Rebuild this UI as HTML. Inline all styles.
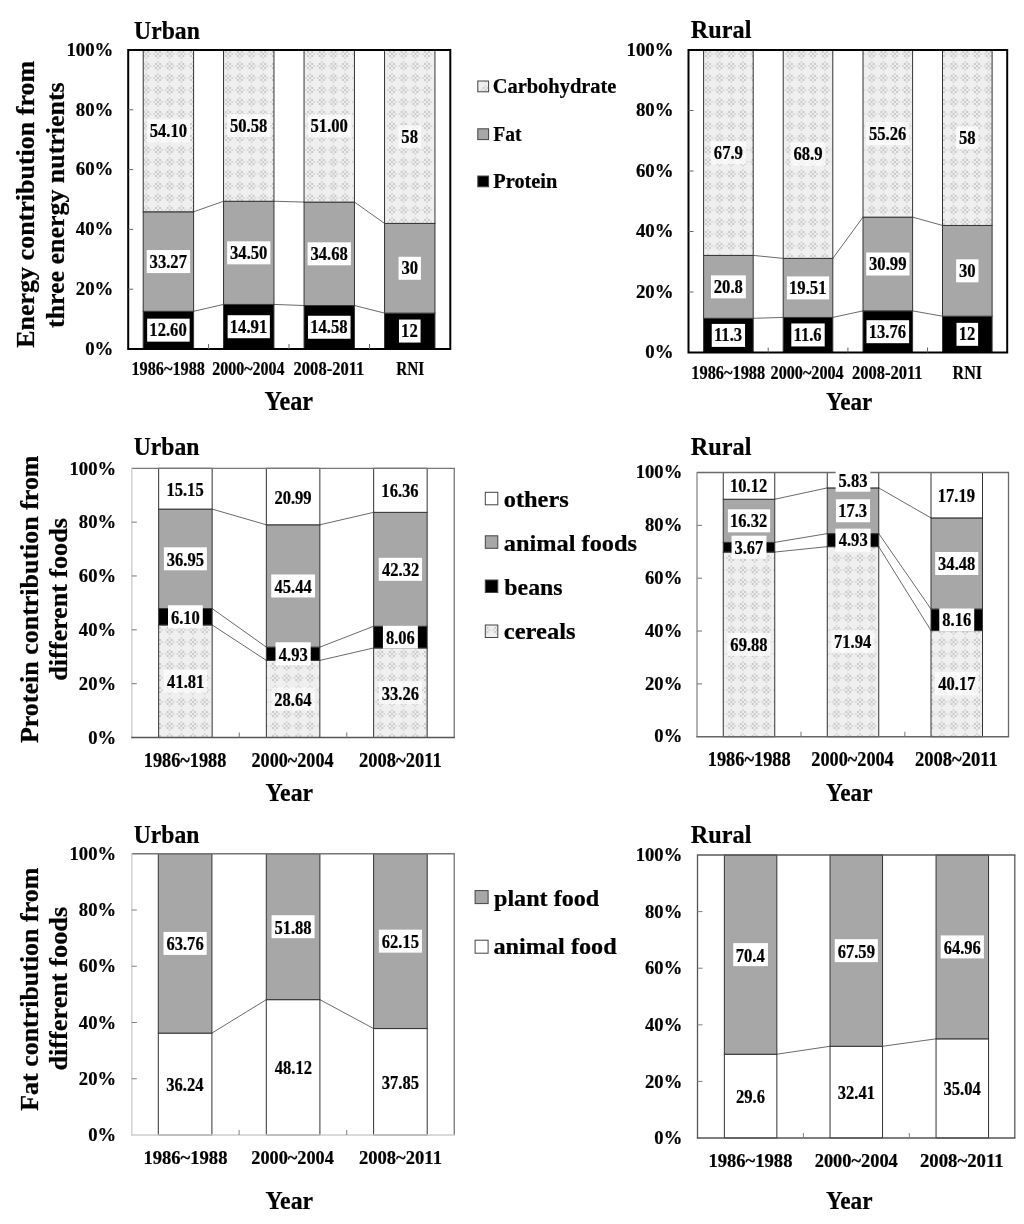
<!DOCTYPE html>
<html><head><meta charset="utf-8"><title>Energy, protein and fat contribution</title>
<style>html,body{margin:0;padding:0;background:#fff}svg{display:block}text{font-family:'Liberation Serif','Times New Roman',serif;font-weight:bold;stroke:#000;stroke-width:0.22px}</style></head>
<body><svg width="1024" height="1224" viewBox="0 0 1024 1224">
<defs><pattern id="dots" width="11.7" height="12.0" patternUnits="userSpaceOnUse"><rect width="11.7" height="12.0" fill="#efefef"/><rect x="3.20" y="3.35" width="1.3" height="1.3" fill="#9a9a9a"/><rect x="7.20" y="3.35" width="1.3" height="1.3" fill="#9a9a9a"/><rect x="5.20" y="5.35" width="1.3" height="1.3" fill="#9a9a9a"/><rect x="3.20" y="7.35" width="1.3" height="1.3" fill="#9a9a9a"/><rect x="7.20" y="7.35" width="1.3" height="1.3" fill="#9a9a9a"/><rect x="1.20" y="5.35" width="1.3" height="1.3" fill="#c0c0c0"/><rect x="9.20" y="5.35" width="1.3" height="1.3" fill="#c0c0c0"/><rect x="5.20" y="1.35" width="1.3" height="1.3" fill="#c0c0c0"/><rect x="5.20" y="9.35" width="1.3" height="1.3" fill="#c0c0c0"/></pattern></defs>
<rect width="1024" height="1224" fill="#fff"/>
<rect x="128.20" y="50.00" width="322.10" height="299.00" fill="#fff"/>
<rect x="143.20" y="311.31" width="50.40" height="37.69" fill="#000" stroke="#333" stroke-width="1"/>
<rect x="143.20" y="211.81" width="50.40" height="99.51" fill="#a7a7a7" stroke="#333" stroke-width="1"/>
<rect x="143.20" y="50.00" width="50.40" height="161.81" fill="url(#dots)" stroke="#333" stroke-width="1"/>
<rect x="223.55" y="304.41" width="50.40" height="44.59" fill="#000" stroke="#333" stroke-width="1"/>
<rect x="223.55" y="201.25" width="50.40" height="103.17" fill="#a7a7a7" stroke="#333" stroke-width="1"/>
<rect x="223.55" y="50.00" width="50.40" height="151.25" fill="url(#dots)" stroke="#333" stroke-width="1"/>
<rect x="304.05" y="305.52" width="50.40" height="43.48" fill="#000" stroke="#333" stroke-width="1"/>
<rect x="304.05" y="202.09" width="50.40" height="103.42" fill="#a7a7a7" stroke="#333" stroke-width="1"/>
<rect x="304.05" y="50.00" width="50.40" height="152.09" fill="url(#dots)" stroke="#333" stroke-width="1"/>
<rect x="384.55" y="313.12" width="50.40" height="35.88" fill="#000" stroke="#333" stroke-width="1"/>
<rect x="384.55" y="223.42" width="50.40" height="89.70" fill="#a7a7a7" stroke="#333" stroke-width="1"/>
<rect x="384.55" y="50.00" width="50.40" height="173.42" fill="url(#dots)" stroke="#333" stroke-width="1"/>
<line x1="193.60" y1="311.31" x2="223.55" y2="304.41" stroke="#444" stroke-width="0.8"/>
<line x1="193.60" y1="211.81" x2="223.55" y2="201.25" stroke="#444" stroke-width="0.8"/>
<line x1="273.95" y1="304.41" x2="304.05" y2="305.52" stroke="#444" stroke-width="0.8"/>
<line x1="273.95" y1="201.25" x2="304.05" y2="202.09" stroke="#444" stroke-width="0.8"/>
<line x1="354.45" y1="305.52" x2="384.55" y2="313.12" stroke="#444" stroke-width="0.8"/>
<line x1="354.45" y1="202.09" x2="384.55" y2="223.42" stroke="#444" stroke-width="0.8"/>
<rect x="128.20" y="50.00" width="322.10" height="299.00" fill="none" stroke="#000" stroke-width="2"/>
<line x1="128.20" y1="289.20" x2="133.20" y2="289.20" stroke="#666" stroke-width="1"/>
<line x1="128.20" y1="229.40" x2="133.20" y2="229.40" stroke="#666" stroke-width="1"/>
<line x1="128.20" y1="169.60" x2="133.20" y2="169.60" stroke="#666" stroke-width="1"/>
<line x1="128.20" y1="109.80" x2="133.20" y2="109.80" stroke="#666" stroke-width="1"/>
<line x1="208.57" y1="349.00" x2="208.57" y2="344.00" stroke="#666" stroke-width="1"/>
<line x1="289.00" y1="349.00" x2="289.00" y2="344.00" stroke="#666" stroke-width="1"/>
<line x1="369.50" y1="349.00" x2="369.50" y2="344.00" stroke="#666" stroke-width="1"/>
<rect x="147.15" y="318.66" width="42.50" height="23.00" fill="#fff"/>
<text transform="translate(149.32,336.16) scale(0.9300,1)" font-size="17.90" fill="#000">12.60</text>
<rect x="146.69" y="250.06" width="43.42" height="23.00" fill="#fff"/>
<text transform="translate(149.57,267.56) scale(0.9300,1)" font-size="17.90" fill="#000">33.27</text>
<rect x="146.82" y="119.40" width="43.17" height="23.00" fill="rgba(255,255,255,0.7)"/>
<text transform="translate(149.65,136.90) scale(0.9300,1)" font-size="17.90" fill="#000">54.10</text>
<rect x="227.62" y="315.21" width="42.25" height="23.00" fill="#fff"/>
<text transform="translate(229.79,332.71) scale(0.9300,1)" font-size="17.90" fill="#000">14.91</text>
<rect x="227.15" y="241.33" width="43.21" height="23.00" fill="#fff"/>
<text transform="translate(230.02,258.83) scale(0.9300,1)" font-size="17.90" fill="#000">34.50</text>
<rect x="227.13" y="114.12" width="43.25" height="23.00" fill="rgba(255,255,255,0.7)"/>
<text transform="translate(229.96,131.62) scale(0.9300,1)" font-size="17.90" fill="#000">50.58</text>
<rect x="307.96" y="315.76" width="42.58" height="23.00" fill="#fff"/>
<text transform="translate(310.13,333.26) scale(0.9300,1)" font-size="17.90" fill="#000">14.58</text>
<rect x="307.60" y="242.31" width="43.29" height="23.00" fill="#fff"/>
<text transform="translate(310.48,259.81) scale(0.9300,1)" font-size="17.90" fill="#000">34.68</text>
<rect x="307.67" y="114.55" width="43.17" height="23.00" fill="rgba(255,255,255,0.7)"/>
<text transform="translate(310.50,132.05) scale(0.9300,1)" font-size="17.90" fill="#000">51.00</text>
<rect x="398.95" y="319.56" width="21.61" height="23.00" fill="#fff"/>
<text transform="translate(401.11,337.06) scale(0.9300,1)" font-size="17.90" fill="#000">12</text>
<rect x="398.55" y="256.77" width="22.40" height="23.00" fill="#fff"/>
<text transform="translate(401.43,274.27) scale(0.9300,1)" font-size="17.90" fill="#000">30</text>
<rect x="398.53" y="125.21" width="22.44" height="23.00" fill="rgba(255,255,255,0.7)"/>
<text transform="translate(401.36,142.71) scale(0.9300,1)" font-size="17.90" fill="#000">58</text>
<text transform="translate(85.19,354.80) scale(1.0000,1)" font-size="18.80" fill="#000">0%</text>
<text transform="translate(75.79,295.00) scale(1.0000,1)" font-size="18.80" fill="#000">20%</text>
<text transform="translate(75.79,235.20) scale(1.0000,1)" font-size="18.80" fill="#000">40%</text>
<text transform="translate(75.79,175.40) scale(1.0000,1)" font-size="18.80" fill="#000">60%</text>
<text transform="translate(75.79,115.60) scale(1.0000,1)" font-size="18.80" fill="#000">80%</text>
<text transform="translate(66.39,55.80) scale(1.0000,1)" font-size="18.80" fill="#000">100%</text>
<text transform="translate(131.40,374.80) scale(0.8953,1)" font-size="18.20" fill="#000">1986~1988</text>
<text transform="translate(212.32,374.80) scale(0.8786,1)" font-size="18.20" fill="#000">2000~2004</text>
<text transform="translate(293.60,374.80) scale(0.9080,1)" font-size="18.20" fill="#000">2008-2011</text>
<text transform="translate(396.33,374.80) scale(0.8260,1)" font-size="18.47" fill="#000">RNI</text>
<text transform="translate(134.11,38.80) scale(0.9347,1)" font-size="25.32" fill="#000">Urban</text>
<text transform="translate(264.58,410.00) scale(0.8968,1)" font-size="27.02" fill="#000">Year</text>
<rect x="688.50" y="50.00" width="318.70" height="302.50" fill="#fff"/>
<rect x="703.60" y="318.32" width="49.60" height="34.18" fill="#000" stroke="#333" stroke-width="1"/>
<rect x="703.60" y="255.40" width="49.60" height="62.92" fill="#a7a7a7" stroke="#333" stroke-width="1"/>
<rect x="703.60" y="50.00" width="49.60" height="205.40" fill="url(#dots)" stroke="#333" stroke-width="1"/>
<rect x="783.20" y="317.41" width="49.60" height="35.09" fill="#000" stroke="#333" stroke-width="1"/>
<rect x="783.20" y="258.40" width="49.60" height="59.01" fill="#a7a7a7" stroke="#333" stroke-width="1"/>
<rect x="783.20" y="50.00" width="49.60" height="208.40" fill="url(#dots)" stroke="#333" stroke-width="1"/>
<rect x="863.00" y="310.88" width="49.60" height="41.62" fill="#000" stroke="#333" stroke-width="1"/>
<rect x="863.00" y="217.14" width="49.60" height="93.74" fill="#a7a7a7" stroke="#333" stroke-width="1"/>
<rect x="863.00" y="50.00" width="49.60" height="167.14" fill="url(#dots)" stroke="#333" stroke-width="1"/>
<rect x="942.50" y="316.20" width="49.60" height="36.30" fill="#000" stroke="#333" stroke-width="1"/>
<rect x="942.50" y="225.45" width="49.60" height="90.75" fill="#a7a7a7" stroke="#333" stroke-width="1"/>
<rect x="942.50" y="50.00" width="49.60" height="175.45" fill="url(#dots)" stroke="#333" stroke-width="1"/>
<line x1="753.20" y1="318.32" x2="783.20" y2="317.41" stroke="#444" stroke-width="0.8"/>
<line x1="753.20" y1="255.40" x2="783.20" y2="258.40" stroke="#444" stroke-width="0.8"/>
<line x1="832.80" y1="317.41" x2="863.00" y2="310.88" stroke="#444" stroke-width="0.8"/>
<line x1="832.80" y1="258.40" x2="863.00" y2="217.14" stroke="#444" stroke-width="0.8"/>
<line x1="912.60" y1="310.88" x2="942.50" y2="316.20" stroke="#444" stroke-width="0.8"/>
<line x1="912.60" y1="217.14" x2="942.50" y2="225.45" stroke="#444" stroke-width="0.8"/>
<rect x="688.50" y="50.00" width="318.70" height="302.50" fill="none" stroke="#000" stroke-width="2"/>
<line x1="688.50" y1="292.00" x2="693.50" y2="292.00" stroke="#666" stroke-width="1"/>
<line x1="688.50" y1="231.50" x2="693.50" y2="231.50" stroke="#666" stroke-width="1"/>
<line x1="688.50" y1="171.00" x2="693.50" y2="171.00" stroke="#666" stroke-width="1"/>
<line x1="688.50" y1="110.50" x2="693.50" y2="110.50" stroke="#666" stroke-width="1"/>
<line x1="768.20" y1="352.50" x2="768.20" y2="347.50" stroke="#666" stroke-width="1"/>
<line x1="847.90" y1="352.50" x2="847.90" y2="347.50" stroke="#666" stroke-width="1"/>
<line x1="927.55" y1="352.50" x2="927.55" y2="347.50" stroke="#666" stroke-width="1"/>
<rect x="711.75" y="323.91" width="33.30" height="23.00" fill="#fff"/>
<text transform="translate(713.92,341.41) scale(0.9300,1)" font-size="17.90" fill="#000">11.3</text>
<rect x="710.96" y="275.36" width="34.88" height="23.00" fill="#fff"/>
<text transform="translate(713.75,292.86) scale(0.9300,1)" font-size="17.90" fill="#000">20.8</text>
<rect x="710.92" y="141.20" width="34.97" height="23.00" fill="rgba(255,255,255,0.7)"/>
<text transform="translate(713.83,158.70) scale(0.9300,1)" font-size="17.90" fill="#000">67.9</text>
<rect x="791.31" y="323.46" width="33.39" height="23.00" fill="#fff"/>
<text transform="translate(793.48,340.96) scale(0.9300,1)" font-size="17.90" fill="#000">11.6</text>
<rect x="786.87" y="276.41" width="42.25" height="23.00" fill="#fff"/>
<text transform="translate(789.04,293.91) scale(0.9300,1)" font-size="17.90" fill="#000">19.51</text>
<rect x="790.52" y="142.70" width="34.97" height="23.00" fill="rgba(255,255,255,0.7)"/>
<text transform="translate(793.43,160.20) scale(0.9300,1)" font-size="17.90" fill="#000">68.9</text>
<rect x="866.49" y="320.19" width="42.62" height="23.00" fill="#fff"/>
<text transform="translate(868.66,337.69) scale(0.9300,1)" font-size="17.90" fill="#000">13.76</text>
<rect x="866.18" y="252.51" width="43.25" height="23.00" fill="#fff"/>
<text transform="translate(869.05,270.01) scale(0.9300,1)" font-size="17.90" fill="#000">30.99</text>
<rect x="866.15" y="122.07" width="43.29" height="23.00" fill="rgba(255,255,255,0.7)"/>
<text transform="translate(868.99,139.57) scale(0.9300,1)" font-size="17.90" fill="#000">55.26</text>
<rect x="956.50" y="322.85" width="21.61" height="23.00" fill="#fff"/>
<text transform="translate(958.66,340.35) scale(0.9300,1)" font-size="17.90" fill="#000">12</text>
<rect x="956.10" y="259.32" width="22.40" height="23.00" fill="#fff"/>
<text transform="translate(958.98,276.82) scale(0.9300,1)" font-size="17.90" fill="#000">30</text>
<rect x="956.08" y="126.22" width="22.44" height="23.00" fill="rgba(255,255,255,0.7)"/>
<text transform="translate(958.91,143.72) scale(0.9300,1)" font-size="17.90" fill="#000">58</text>
<text transform="translate(645.29,358.30) scale(1.0000,1)" font-size="18.80" fill="#000">0%</text>
<text transform="translate(635.89,297.80) scale(1.0000,1)" font-size="18.80" fill="#000">20%</text>
<text transform="translate(635.89,237.30) scale(1.0000,1)" font-size="18.80" fill="#000">40%</text>
<text transform="translate(635.89,176.80) scale(1.0000,1)" font-size="18.80" fill="#000">60%</text>
<text transform="translate(635.89,116.30) scale(1.0000,1)" font-size="18.80" fill="#000">80%</text>
<text transform="translate(626.49,55.80) scale(1.0000,1)" font-size="18.80" fill="#000">100%</text>
<text transform="translate(691.29,378.50) scale(0.9065,1)" font-size="18.05" fill="#000">1986~1988</text>
<text transform="translate(770.61,378.50) scale(0.8946,1)" font-size="18.05" fill="#000">2000~2004</text>
<text transform="translate(851.90,378.50) scale(0.9156,1)" font-size="18.05" fill="#000">2008-2011</text>
<text transform="translate(952.62,378.50) scale(0.8758,1)" font-size="18.32" fill="#000">RNI</text>
<text transform="translate(690.83,38.40) scale(0.9682,1)" font-size="25.04" fill="#000">Rural</text>
<text transform="translate(826.10,409.70) scale(0.9231,1)" font-size="25.04" fill="#000">Year</text>
<rect x="131.80" y="468.30" width="322.45" height="269.20" fill="#fff"/>
<rect x="158.65" y="624.96" width="53.50" height="112.54" fill="url(#dots)" stroke="#333" stroke-width="1"/>
<rect x="158.65" y="608.54" width="53.50" height="16.42" fill="#000" stroke="#333" stroke-width="1"/>
<rect x="158.65" y="509.08" width="53.50" height="99.46" fill="#a7a7a7" stroke="#333" stroke-width="1"/>
<rect x="158.65" y="468.30" width="53.50" height="40.78" fill="#fff" stroke="#333" stroke-width="1"/>
<rect x="266.35" y="660.40" width="53.50" height="77.10" fill="url(#dots)" stroke="#333" stroke-width="1"/>
<rect x="266.35" y="647.13" width="53.50" height="13.27" fill="#000" stroke="#333" stroke-width="1"/>
<rect x="266.35" y="524.81" width="53.50" height="122.32" fill="#a7a7a7" stroke="#333" stroke-width="1"/>
<rect x="266.35" y="468.30" width="53.50" height="56.51" fill="#fff" stroke="#333" stroke-width="1"/>
<rect x="373.65" y="647.96" width="53.50" height="89.54" fill="url(#dots)" stroke="#333" stroke-width="1"/>
<rect x="373.65" y="626.27" width="53.50" height="21.70" fill="#000" stroke="#333" stroke-width="1"/>
<rect x="373.65" y="512.34" width="53.50" height="113.93" fill="#a7a7a7" stroke="#333" stroke-width="1"/>
<rect x="373.65" y="468.30" width="53.50" height="44.04" fill="#fff" stroke="#333" stroke-width="1"/>
<line x1="212.15" y1="624.96" x2="266.35" y2="660.40" stroke="#444" stroke-width="0.8"/>
<line x1="212.15" y1="608.54" x2="266.35" y2="647.13" stroke="#444" stroke-width="0.8"/>
<line x1="212.15" y1="509.08" x2="266.35" y2="524.81" stroke="#444" stroke-width="0.8"/>
<line x1="319.85" y1="660.40" x2="373.65" y2="647.96" stroke="#444" stroke-width="0.8"/>
<line x1="319.85" y1="647.13" x2="373.65" y2="626.27" stroke="#444" stroke-width="0.8"/>
<line x1="319.85" y1="524.81" x2="373.65" y2="512.34" stroke="#444" stroke-width="0.8"/>
<line x1="131.80" y1="468.30" x2="454.85" y2="468.30" stroke="#777" stroke-width="1.3"/>
<line x1="454.25" y1="468.30" x2="454.25" y2="737.50" stroke="#777" stroke-width="1.3"/>
<line x1="131.80" y1="467.70" x2="131.80" y2="738.10" stroke="#ccc" stroke-width="1.3"/>
<line x1="131.20" y1="737.50" x2="454.85" y2="737.50" stroke="#555" stroke-width="1.3"/>
<line x1="131.80" y1="683.66" x2="136.80" y2="683.66" stroke="#777" stroke-width="1"/>
<line x1="131.80" y1="629.82" x2="136.80" y2="629.82" stroke="#777" stroke-width="1"/>
<line x1="131.80" y1="575.98" x2="136.80" y2="575.98" stroke="#777" stroke-width="1"/>
<line x1="131.80" y1="522.14" x2="136.80" y2="522.14" stroke="#777" stroke-width="1"/>
<line x1="239.25" y1="737.50" x2="239.25" y2="732.50" stroke="#777" stroke-width="1"/>
<line x1="346.75" y1="737.50" x2="346.75" y2="732.50" stroke="#777" stroke-width="1"/>
<rect x="163.81" y="669.73" width="43.18" height="23.00" fill="rgba(255,255,255,0.7)"/>
<text transform="translate(167.10,688.23) scale(0.9250,1)" font-size="17.90" fill="#000">41.81</text>
<rect x="168.01" y="605.25" width="34.78" height="23.00" fill="#fff"/>
<text transform="translate(170.93,623.75) scale(0.9250,1)" font-size="17.90" fill="#000">6.10</text>
<rect x="163.89" y="547.31" width="43.01" height="23.00" fill="#fff"/>
<text transform="translate(166.77,565.81) scale(0.9250,1)" font-size="17.90" fill="#000">36.95</text>
<text transform="translate(166.42,495.69) scale(0.9250,1)" font-size="17.90" fill="#000">15.15</text>
<rect x="271.47" y="687.45" width="43.26" height="23.00" fill="rgba(255,255,255,0.7)"/>
<text transform="translate(274.27,705.95) scale(0.9250,1)" font-size="17.90" fill="#000">28.64</text>
<rect x="275.51" y="642.27" width="35.19" height="23.00" fill="#fff"/>
<text transform="translate(278.80,660.77) scale(0.9250,1)" font-size="17.90" fill="#000">4.93</text>
<rect x="271.22" y="574.47" width="43.76" height="23.00" fill="#fff"/>
<text transform="translate(274.51,592.97) scale(0.9250,1)" font-size="17.90" fill="#000">45.44</text>
<text transform="translate(274.41,503.55) scale(0.9250,1)" font-size="17.90" fill="#000">20.99</text>
<rect x="378.83" y="681.23" width="43.14" height="23.00" fill="rgba(255,255,255,0.7)"/>
<text transform="translate(381.71,699.73) scale(0.9250,1)" font-size="17.90" fill="#000">33.26</text>
<rect x="382.93" y="625.62" width="34.94" height="23.00" fill="#fff"/>
<text transform="translate(385.89,644.12) scale(0.9250,1)" font-size="17.90" fill="#000">8.06</text>
<rect x="378.73" y="557.80" width="43.34" height="23.00" fill="#fff"/>
<text transform="translate(382.02,576.30) scale(0.9250,1)" font-size="17.90" fill="#000">42.32</text>
<text transform="translate(381.36,497.32) scale(0.9250,1)" font-size="17.90" fill="#000">16.36</text>
<text transform="translate(88.13,743.70) scale(0.9700,1)" font-size="19.20" fill="#000">0%</text>
<text transform="translate(78.82,689.86) scale(0.9700,1)" font-size="19.20" fill="#000">20%</text>
<text transform="translate(78.82,636.02) scale(0.9700,1)" font-size="19.20" fill="#000">40%</text>
<text transform="translate(78.82,582.18) scale(0.9700,1)" font-size="19.20" fill="#000">60%</text>
<text transform="translate(78.82,528.34) scale(0.9700,1)" font-size="19.20" fill="#000">80%</text>
<text transform="translate(69.51,474.50) scale(0.9700,1)" font-size="19.20" fill="#000">100%</text>
<text transform="translate(143.74,767.00) scale(0.8823,1)" font-size="20.75" fill="#000">1986~1988</text>
<text transform="translate(251.53,767.00) scale(0.8752,1)" font-size="20.75" fill="#000">2000~2004</text>
<text transform="translate(359.11,767.00) scale(0.8921,1)" font-size="20.75" fill="#000">2008~2011</text>
<text transform="translate(133.71,455.20) scale(0.9242,1)" font-size="25.61" fill="#000">Urban</text>
<text transform="translate(265.58,801.40) scale(0.9381,1)" font-size="25.34" fill="#000">Year</text>
<rect x="697.00" y="472.50" width="311.50" height="264.25" fill="#fff"/>
<rect x="723.25" y="552.07" width="51.50" height="184.68" fill="url(#dots)" stroke="#333" stroke-width="1"/>
<rect x="723.25" y="542.37" width="51.50" height="9.70" fill="#000" stroke="#333" stroke-width="1"/>
<rect x="723.25" y="499.24" width="51.50" height="43.13" fill="#a7a7a7" stroke="#333" stroke-width="1"/>
<rect x="723.25" y="472.50" width="51.50" height="26.74" fill="#fff" stroke="#333" stroke-width="1"/>
<rect x="827.25" y="546.65" width="51.50" height="190.10" fill="url(#dots)" stroke="#333" stroke-width="1"/>
<rect x="827.25" y="533.62" width="51.50" height="13.03" fill="#000" stroke="#333" stroke-width="1"/>
<rect x="827.25" y="487.91" width="51.50" height="45.72" fill="#a7a7a7" stroke="#333" stroke-width="1"/>
<rect x="827.25" y="472.50" width="51.50" height="15.41" fill="#fff" stroke="#333" stroke-width="1"/>
<rect x="931.00" y="630.60" width="51.50" height="106.15" fill="url(#dots)" stroke="#333" stroke-width="1"/>
<rect x="931.00" y="609.04" width="51.50" height="21.56" fill="#000" stroke="#333" stroke-width="1"/>
<rect x="931.00" y="517.92" width="51.50" height="91.11" fill="#a7a7a7" stroke="#333" stroke-width="1"/>
<rect x="931.00" y="472.50" width="51.50" height="45.42" fill="#fff" stroke="#333" stroke-width="1"/>
<line x1="774.75" y1="552.07" x2="827.25" y2="546.65" stroke="#444" stroke-width="0.8"/>
<line x1="774.75" y1="542.37" x2="827.25" y2="533.62" stroke="#444" stroke-width="0.8"/>
<line x1="774.75" y1="499.24" x2="827.25" y2="487.91" stroke="#444" stroke-width="0.8"/>
<line x1="878.75" y1="546.65" x2="931.00" y2="630.60" stroke="#444" stroke-width="0.8"/>
<line x1="878.75" y1="533.62" x2="931.00" y2="609.04" stroke="#444" stroke-width="0.8"/>
<line x1="878.75" y1="487.91" x2="931.00" y2="517.92" stroke="#444" stroke-width="0.8"/>
<line x1="697.00" y1="472.50" x2="1009.10" y2="472.50" stroke="#6a6a6a" stroke-width="1.3"/>
<line x1="1008.50" y1="472.50" x2="1008.50" y2="736.75" stroke="#6a6a6a" stroke-width="1.3"/>
<line x1="697.00" y1="471.90" x2="697.00" y2="737.35" stroke="#888" stroke-width="1.3"/>
<line x1="696.40" y1="736.75" x2="1009.10" y2="736.75" stroke="#666" stroke-width="1.3"/>
<line x1="697.00" y1="683.90" x2="702.00" y2="683.90" stroke="#777" stroke-width="1"/>
<line x1="697.00" y1="631.05" x2="702.00" y2="631.05" stroke="#777" stroke-width="1"/>
<line x1="697.00" y1="578.20" x2="702.00" y2="578.20" stroke="#777" stroke-width="1"/>
<line x1="697.00" y1="525.35" x2="702.00" y2="525.35" stroke="#777" stroke-width="1"/>
<line x1="801.00" y1="736.75" x2="801.00" y2="731.75" stroke="#777" stroke-width="1"/>
<line x1="904.88" y1="736.75" x2="904.88" y2="731.75" stroke="#777" stroke-width="1"/>
<rect x="727.43" y="632.91" width="43.14" height="23.00" fill="rgba(255,255,255,0.7)"/>
<text transform="translate(730.35,650.71) scale(0.9250,1)" font-size="17.90" fill="#000">69.88</text>
<rect x="731.53" y="535.72" width="34.94" height="23.00" fill="#fff"/>
<text transform="translate(734.41,553.52) scale(0.9250,1)" font-size="17.90" fill="#000">3.67</text>
<rect x="727.89" y="509.31" width="42.23" height="23.00" fill="#fff"/>
<text transform="translate(730.06,527.11) scale(0.9250,1)" font-size="17.90" fill="#000">16.32</text>
<rect x="727.89" y="474.37" width="42.23" height="23.00" fill="#fff"/>
<text transform="translate(730.06,492.17) scale(0.9250,1)" font-size="17.90" fill="#000">10.12</text>
<rect x="831.49" y="630.20" width="43.01" height="23.00" fill="rgba(255,255,255,0.7)"/>
<text transform="translate(834.04,648.00) scale(0.9250,1)" font-size="17.90" fill="#000">71.94</text>
<rect x="835.41" y="528.63" width="35.19" height="23.00" fill="#fff"/>
<text transform="translate(838.70,546.43) scale(0.9250,1)" font-size="17.90" fill="#000">4.93</text>
<rect x="835.96" y="499.26" width="34.07" height="23.00" fill="#fff"/>
<text transform="translate(838.14,517.06) scale(0.9250,1)" font-size="17.90" fill="#000">17.3</text>
<rect x="835.63" y="468.70" width="34.73" height="23.00" fill="#fff"/>
<text transform="translate(838.47,486.50) scale(0.9250,1)" font-size="17.90" fill="#000">5.83</text>
<rect x="934.93" y="672.18" width="43.63" height="23.00" fill="rgba(255,255,255,0.7)"/>
<text transform="translate(938.23,689.98) scale(0.9250,1)" font-size="17.90" fill="#000">40.17</text>
<rect x="939.28" y="608.32" width="34.94" height="23.00" fill="#fff"/>
<text transform="translate(942.24,626.12) scale(0.9250,1)" font-size="17.90" fill="#000">8.16</text>
<rect x="935.20" y="551.98" width="43.10" height="23.00" fill="#fff"/>
<text transform="translate(938.08,569.78) scale(0.9250,1)" font-size="17.90" fill="#000">34.48</text>
<rect x="935.57" y="483.71" width="42.35" height="23.00" fill="#fff"/>
<text transform="translate(937.75,501.51) scale(0.9250,1)" font-size="17.90" fill="#000">17.19</text>
<text transform="translate(654.33,742.45) scale(0.9700,1)" font-size="19.20" fill="#000">0%</text>
<text transform="translate(645.02,689.60) scale(0.9700,1)" font-size="19.20" fill="#000">20%</text>
<text transform="translate(645.02,636.75) scale(0.9700,1)" font-size="19.20" fill="#000">40%</text>
<text transform="translate(645.02,583.90) scale(0.9700,1)" font-size="19.20" fill="#000">60%</text>
<text transform="translate(645.02,531.05) scale(0.9700,1)" font-size="19.20" fill="#000">80%</text>
<text transform="translate(635.71,478.20) scale(0.9700,1)" font-size="19.20" fill="#000">100%</text>
<text transform="translate(707.73,766.20) scale(0.9189,1)" font-size="20.00" fill="#000">1986~1988</text>
<text transform="translate(811.32,766.20) scale(0.9126,1)" font-size="20.00" fill="#000">2000~2004</text>
<text transform="translate(914.91,766.20) scale(0.9302,1)" font-size="20.00" fill="#000">2008~2011</text>
<text transform="translate(690.83,455.00) scale(0.9518,1)" font-size="25.47" fill="#000">Rural</text>
<text transform="translate(826.09,801.40) scale(0.9160,1)" font-size="25.34" fill="#000">Year</text>
<rect x="131.80" y="853.75" width="322.45" height="281.25" fill="#fff"/>
<rect x="158.30" y="1033.08" width="53.60" height="101.92" fill="#fff" stroke="#333" stroke-width="1"/>
<rect x="158.30" y="853.75" width="53.60" height="179.33" fill="#a7a7a7" stroke="#333" stroke-width="1"/>
<rect x="266.30" y="999.66" width="53.60" height="135.34" fill="#fff" stroke="#333" stroke-width="1"/>
<rect x="266.30" y="853.75" width="53.60" height="145.91" fill="#a7a7a7" stroke="#333" stroke-width="1"/>
<rect x="373.60" y="1028.55" width="53.60" height="106.45" fill="#fff" stroke="#333" stroke-width="1"/>
<rect x="373.60" y="853.75" width="53.60" height="174.80" fill="#a7a7a7" stroke="#333" stroke-width="1"/>
<line x1="211.90" y1="1033.08" x2="266.30" y2="999.66" stroke="#444" stroke-width="0.8"/>
<line x1="319.90" y1="999.66" x2="373.60" y2="1028.55" stroke="#444" stroke-width="0.8"/>
<line x1="131.80" y1="853.75" x2="454.85" y2="853.75" stroke="#777" stroke-width="1.3"/>
<line x1="454.25" y1="853.75" x2="454.25" y2="1135.00" stroke="#777" stroke-width="1.3"/>
<line x1="131.80" y1="853.15" x2="131.80" y2="1135.60" stroke="#ccc" stroke-width="1.3"/>
<line x1="131.20" y1="1135.00" x2="454.85" y2="1135.00" stroke="#ccc" stroke-width="1.3"/>
<line x1="131.80" y1="1078.75" x2="136.80" y2="1078.75" stroke="#808080" stroke-width="1"/>
<line x1="131.80" y1="1022.50" x2="136.80" y2="1022.50" stroke="#808080" stroke-width="1"/>
<line x1="131.80" y1="966.25" x2="136.80" y2="966.25" stroke="#808080" stroke-width="1"/>
<line x1="131.80" y1="910.00" x2="136.80" y2="910.00" stroke="#808080" stroke-width="1"/>
<line x1="239.10" y1="1135.00" x2="239.10" y2="1130.00" stroke="#808080" stroke-width="1"/>
<line x1="346.75" y1="1135.00" x2="346.75" y2="1130.00" stroke="#808080" stroke-width="1"/>
<text transform="translate(166.31,1091.04) scale(0.9250,1)" font-size="17.90" fill="#000">36.24</text>
<rect x="163.51" y="931.91" width="43.18" height="23.00" fill="#fff"/>
<text transform="translate(166.43,950.41) scale(0.9250,1)" font-size="17.90" fill="#000">63.76</text>
<text transform="translate(274.72,1074.33) scale(0.9250,1)" font-size="17.90" fill="#000">48.12</text>
<rect x="271.57" y="915.21" width="43.05" height="23.00" fill="#fff"/>
<text transform="translate(274.41,933.71) scale(0.9250,1)" font-size="17.90" fill="#000">51.88</text>
<text transform="translate(381.77,1088.77) scale(0.9250,1)" font-size="17.90" fill="#000">37.85</text>
<rect x="378.87" y="929.65" width="43.05" height="23.00" fill="#fff"/>
<text transform="translate(381.79,948.15) scale(0.9250,1)" font-size="17.90" fill="#000">62.15</text>
<text transform="translate(88.13,1141.20) scale(0.9700,1)" font-size="19.20" fill="#000">0%</text>
<text transform="translate(78.82,1084.95) scale(0.9700,1)" font-size="19.20" fill="#000">20%</text>
<text transform="translate(78.82,1028.70) scale(0.9700,1)" font-size="19.20" fill="#000">40%</text>
<text transform="translate(78.82,972.45) scale(0.9700,1)" font-size="19.20" fill="#000">60%</text>
<text transform="translate(78.82,916.20) scale(0.9700,1)" font-size="19.20" fill="#000">80%</text>
<text transform="translate(69.51,859.95) scale(0.9700,1)" font-size="19.20" fill="#000">100%</text>
<text transform="translate(143.41,1164.20) scale(0.9819,1)" font-size="18.95" fill="#000">1986~1988</text>
<text transform="translate(251.32,1164.20) scale(0.9633,1)" font-size="18.95" fill="#000">2000~2004</text>
<text transform="translate(358.91,1164.20) scale(0.9819,1)" font-size="18.95" fill="#000">2008~2011</text>
<text transform="translate(133.71,843.40) scale(0.9191,1)" font-size="25.76" fill="#000">Urban</text>
<text transform="translate(265.58,1209.00) scale(0.9733,1)" font-size="24.43" fill="#000">Year</text>
<rect x="697.50" y="855.00" width="317.30" height="283.00" fill="#fff"/>
<rect x="724.35" y="1054.23" width="52.50" height="83.77" fill="#fff" stroke="#333" stroke-width="1"/>
<rect x="724.35" y="855.00" width="52.50" height="199.23" fill="#a7a7a7" stroke="#333" stroke-width="1"/>
<rect x="830.05" y="1046.28" width="52.50" height="91.72" fill="#fff" stroke="#333" stroke-width="1"/>
<rect x="830.05" y="855.00" width="52.50" height="191.28" fill="#a7a7a7" stroke="#333" stroke-width="1"/>
<rect x="936.05" y="1038.84" width="52.50" height="99.16" fill="#fff" stroke="#333" stroke-width="1"/>
<rect x="936.05" y="855.00" width="52.50" height="183.84" fill="#a7a7a7" stroke="#333" stroke-width="1"/>
<line x1="776.85" y1="1054.23" x2="830.05" y2="1046.28" stroke="#444" stroke-width="0.8"/>
<line x1="882.55" y1="1046.28" x2="936.05" y2="1038.84" stroke="#444" stroke-width="0.8"/>
<line x1="697.50" y1="855.00" x2="1015.40" y2="855.00" stroke="#5a5a5a" stroke-width="1.3"/>
<line x1="1014.80" y1="855.00" x2="1014.80" y2="1138.00" stroke="#5a5a5a" stroke-width="1.3"/>
<line x1="697.50" y1="854.40" x2="697.50" y2="1138.60" stroke="#555" stroke-width="1.3"/>
<line x1="696.90" y1="1138.00" x2="1015.40" y2="1138.00" stroke="#555" stroke-width="1.3"/>
<line x1="697.50" y1="1081.40" x2="702.50" y2="1081.40" stroke="#808080" stroke-width="1"/>
<line x1="697.50" y1="1024.80" x2="702.50" y2="1024.80" stroke="#808080" stroke-width="1"/>
<line x1="697.50" y1="968.20" x2="702.50" y2="968.20" stroke="#808080" stroke-width="1"/>
<line x1="697.50" y1="911.60" x2="702.50" y2="911.60" stroke="#808080" stroke-width="1"/>
<line x1="803.45" y1="1138.00" x2="803.45" y2="1133.00" stroke="#808080" stroke-width="1"/>
<line x1="909.30" y1="1138.00" x2="909.30" y2="1133.00" stroke="#808080" stroke-width="1"/>
<text transform="translate(736.01,1103.12) scale(0.9250,1)" font-size="17.90" fill="#000">29.6</text>
<rect x="733.23" y="943.12" width="34.73" height="23.00" fill="#fff"/>
<text transform="translate(735.78,961.62) scale(0.9250,1)" font-size="17.90" fill="#000">70.4</text>
<text transform="translate(837.80,1099.14) scale(0.9250,1)" font-size="17.90" fill="#000">32.41</text>
<rect x="834.75" y="939.14" width="43.10" height="23.00" fill="#fff"/>
<text transform="translate(837.67,957.64) scale(0.9250,1)" font-size="17.90" fill="#000">67.59</text>
<text transform="translate(943.51,1095.42) scale(0.9250,1)" font-size="17.90" fill="#000">35.04</text>
<rect x="940.71" y="935.42" width="43.18" height="23.00" fill="#fff"/>
<text transform="translate(943.63,953.92) scale(0.9250,1)" font-size="17.90" fill="#000">64.96</text>
<text transform="translate(654.33,1144.20) scale(0.9700,1)" font-size="19.20" fill="#000">0%</text>
<text transform="translate(645.02,1087.60) scale(0.9700,1)" font-size="19.20" fill="#000">20%</text>
<text transform="translate(645.02,1031.00) scale(0.9700,1)" font-size="19.20" fill="#000">40%</text>
<text transform="translate(645.02,974.40) scale(0.9700,1)" font-size="19.20" fill="#000">60%</text>
<text transform="translate(645.02,917.80) scale(0.9700,1)" font-size="19.20" fill="#000">80%</text>
<text transform="translate(635.71,861.20) scale(0.9700,1)" font-size="19.20" fill="#000">100%</text>
<text transform="translate(708.41,1167.30) scale(0.9666,1)" font-size="19.25" fill="#000">1986~1988</text>
<text transform="translate(814.72,1167.30) scale(0.9552,1)" font-size="19.25" fill="#000">2000~2004</text>
<text transform="translate(919.90,1167.30) scale(0.9749,1)" font-size="19.25" fill="#000">2008~2011</text>
<text transform="translate(690.83,843.40) scale(0.9411,1)" font-size="25.76" fill="#000">Rural</text>
<text transform="translate(826.09,1208.90) scale(0.9272,1)" font-size="25.04" fill="#000">Year</text>
<text transform="translate(33.70,347.76) rotate(-90) scale(1.0701,1)" font-size="24.30">Energy contribution from</text>
<text transform="translate(63.70,327.99) rotate(-90) scale(1.0672,1)" font-size="24.30">three energy nutrients</text>
<text transform="translate(37.90,743.05) rotate(-90) scale(1.0693,1)" font-size="24.30">Protein contribution from</text>
<text transform="translate(67.10,680.74) rotate(-90) scale(1.0739,1)" font-size="24.30">different foods</text>
<text transform="translate(37.70,1110.75) rotate(-90) scale(1.0677,1)" font-size="24.30">Fat contribution from</text>
<text transform="translate(66.90,1070.55) rotate(-90) scale(1.0816,1)" font-size="24.30">different foods</text>
<rect x="477.80" y="81.00" width="10.80" height="10.80" fill="url(#dots)" stroke="#444" stroke-width="1"/>
<text transform="translate(492.68,93.00) scale(0.9803,1)" font-size="20.86" fill="#000">Carbohydrate</text>
<rect x="477.80" y="128.80" width="10.80" height="10.80" fill="#a7a7a7" stroke="#444" stroke-width="1"/>
<text transform="translate(493.36,140.50) scale(0.9030,1)" font-size="21.68" fill="#000">Fat</text>
<rect x="477.80" y="176.00" width="10.80" height="10.80" fill="#000" stroke="#444" stroke-width="1"/>
<text transform="translate(493.34,187.50) scale(1.0161,1)" font-size="20.00" fill="#000">Protein</text>
<rect x="485.30" y="492.30" width="12.50" height="12.50" fill="#fff" stroke="#444" stroke-width="1"/>
<text transform="translate(503.68,506.90) scale(1.0346,1)" font-size="23.60" fill="#000">others</text>
<rect x="485.30" y="535.80" width="12.50" height="12.50" fill="#a7a7a7" stroke="#444" stroke-width="1"/>
<text transform="translate(503.81,550.60) scale(1.0097,1)" font-size="24.11" fill="#000">animal foods</text>
<rect x="485.30" y="580.00" width="12.50" height="12.50" fill="#000" stroke="#444" stroke-width="1"/>
<text transform="translate(504.30,594.70) scale(0.9922,1)" font-size="24.03" fill="#000">beans</text>
<rect x="485.30" y="625.00" width="12.50" height="12.50" fill="url(#dots)" stroke="#444" stroke-width="1"/>
<text transform="translate(503.74,639.20) scale(1.0226,1)" font-size="24.03" fill="#000">cereals</text>
<rect x="475.10" y="890.60" width="13.00" height="13.00" fill="#a7a7a7" stroke="#444" stroke-width="1"/>
<text transform="translate(494.00,905.80) scale(1.0252,1)" font-size="23.55" fill="#000">plant food</text>
<rect x="475.10" y="940.20" width="13.00" height="13.00" fill="#fff" stroke="#444" stroke-width="1"/>
<text transform="translate(493.51,954.00) scale(1.0675,1)" font-size="22.70" fill="#000">animal food</text>
</svg></body></html>
